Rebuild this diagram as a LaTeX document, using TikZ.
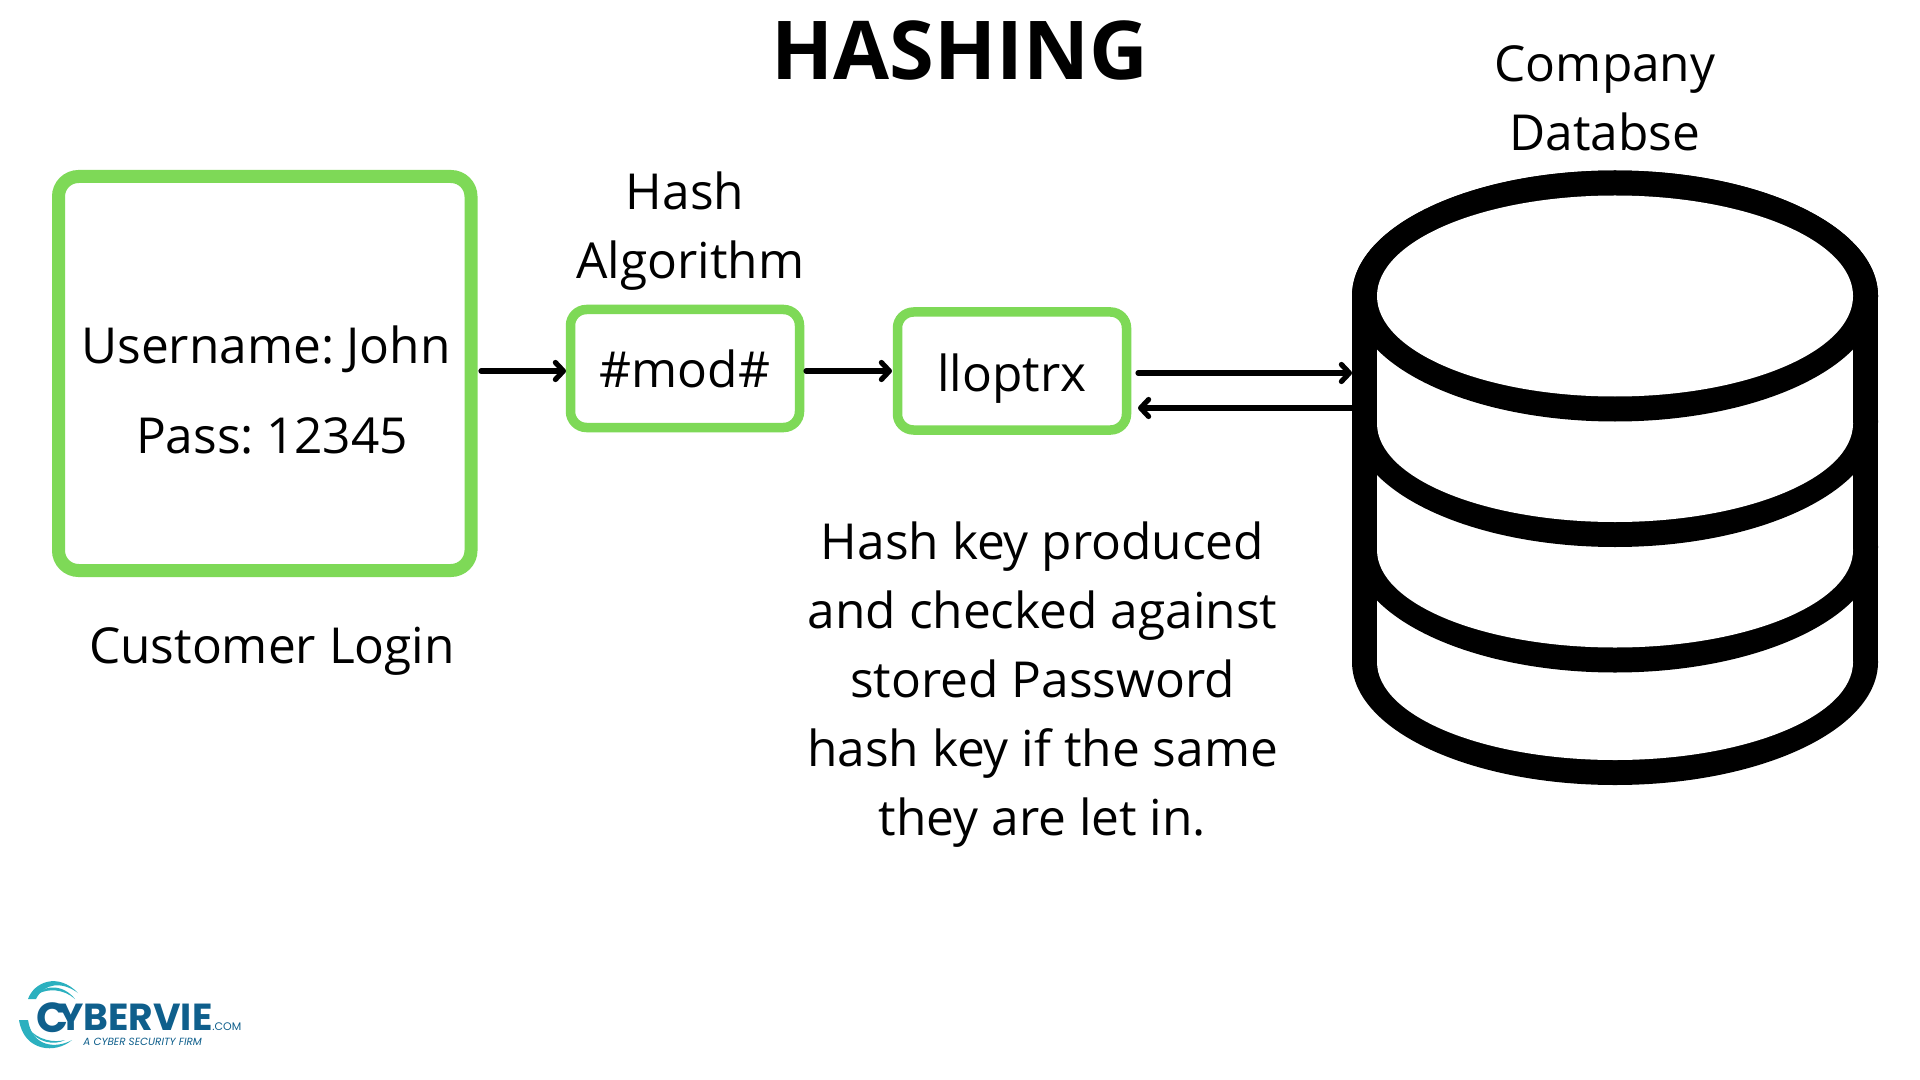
\documentclass[tikz,border=0pt]{standalone}
\usepackage{fontspec}
\usepackage{graphicx}
\setmainfont{Open Sans}
\newfontfamily\logofont{Poppins}
\usetikzlibrary{arrows.meta}
\definecolor{gbox}{HTML}{7ED957}
\definecolor{logoblue}{HTML}{0F5F8C}
\definecolor{logoteal}{HTML}{2BB0BF}
\tikzset{
  greenbox/.style={draw=gbox,line width=4.75pt,rounded corners=8pt,fill=white,inner sep=0pt,font=\fontsize{24.8pt}{34.5pt}\selectfont,text=black,text depth=0pt},
  lbl/.style={inner sep=0pt,anchor=base,align=center,font=\fontsize{24.8pt}{34.5pt}\selectfont,text=black},
  linkarrow/.style={line width=2.6pt,line cap=round,-{Straight Barb[round,length=4pt,width=8.5pt,line width=2.6pt]}},
  dbk/.style={fill=black},
  dbw/.style={fill=white},
}
\newcommand{\dbdisc}[4]{\fill[#1] (1615,#2) ellipse [x radius=#3,y radius=#4];}
\newcommand{\dbseg}[3]{%
  \fill[dbw] (1377,#1) rectangle (1853,#2);
  \dbdisc{dbw}{#2}{238}{#3}}
\begin{document}
\begin{tikzpicture}[x=0.5pt,y=-0.5pt]
\useasboundingbox (0,0) rectangle (1920,1080);
\fill[white] (0,0) rectangle (1920,1080);
% title
\node[inner sep=0pt,anchor=base,font=\fontsize{40.6pt}{45pt}\selectfont\bfseries] (title) at (960,80) {HASHING};
% customer box
\node[draw=gbox,line width=6.5pt,rounded corners=10pt,minimum width=206.25pt,minimum height=197pt,inner sep=0pt] (cust) at (264.75,373.5) {};
\node[lbl] (user) at (266,364) {Username:\kern-2.5pt{} John};
\node[lbl] (pass) at (272,453) {Pass:\kern-2.5pt{} 12345};
\node[lbl] (custlbl) at (272,663) {Customer Login};
% hash
\node[lbl] (hash) at (685,209.5) {Hash};
\node[lbl] (algo) at (690.5,278.5) {Algorithm};
\node[greenbox,text height=18.5pt,minimum width=114.5pt,minimum height=59pt] (mod) at (685,368.5) {\#mod\#};
\node[greenbox,text height=20pt,minimum width=114.5pt,minimum height=59pt] (key) at (1012,371) {lloptrx};
% paragraph
\node[lbl] (p1) at (1042.5,559) {Hash key produced};
\node[lbl] (p2) at (1042.5,628) {and checked against};
\node[lbl] (p3) at (1042.5,697) {stored Password};
\node[lbl] (p4) at (1042.5,766) {hash key if the same};
\node[lbl] (p5) at (1042.5,835) {they are let in.};
% database
\node[lbl] (co) at (1605,82) {Company};
\node[lbl] (dbname) at (1605,151) {Databse};
\dbdisc{dbk}{296}{263}{125.5}
\dbdisc{dbk}{662}{263}{123}
\fill[dbk] (1352,296) rectangle (1878,662);
\dbseg{547}{662}{98}
\dbdisc{dbk}{547}{263}{125.5}
\dbseg{423.5}{550}{97.5}
\dbdisc{dbk}{421.5}{263}{125.5}
\dbseg{296}{423.5}{98.5}
\dbdisc{dbk}{296}{263}{125.5}
\dbdisc{dbw}{296}{238}{100.5}
\coordinate (dbin) at (1352,373);
\coordinate (dbout) at (1352,408);
\coordinate (keyout) at (1138,373);
\coordinate (keyin) at (1138,408);
\coordinate (custout) at (481,371);
\coordinate (modin) at (566,371);
\coordinate (modout) at (806,371);
\coordinate (keyleft) at (892,371);
% connectors
\draw[linkarrow] (custout) -- (modin);
\draw[linkarrow] (modout) -- (keyleft);
\draw[linkarrow] (keyout) -- (dbin);
\draw[linkarrow] (dbout) -- (keyin);
% logo
\fill[logoteal] (28,999) .. controls (34,982) and (58,972) .. (78,993) .. controls (62,981) and (44,983) .. (36,999) -- cycle;
\fill[logoteal] (38,994) .. controls (46,984) and (64,985) .. (75,999) .. controls (64,989) and (48,988) .. (38,994) -- cycle;
\fill[logoteal] (19,1020) .. controls (24,1052) and (56,1054) .. (72,1040) .. controls (56,1049) and (32,1047) .. (28,1020) -- cycle;
\fill[logoteal] (29,1029) .. controls (36,1042) and (54,1046) .. (65,1040) .. controls (54,1043) and (38,1040) .. (29,1029) -- cycle;
\node[inner sep=0pt,anchor=base west,text=logoblue] (logoc) at (36,1032) {\resizebox{16pt}{!}{\logofont\bfseries C}};
\node[inner sep=0pt,anchor=base west,text=logoblue] (logoname) at (58,1030) {\resizebox{77pt}{!}{\logofont\bfseries YBERVIE}};
\node[inner sep=0pt,anchor=base west,text=logoblue] (logocom) at (212,1030) {\logofont\fontsize{5.5pt}{6pt}\selectfont .COM};
\node[inner sep=0pt,anchor=base west,text=logoblue] (logosub) at (83,1045.5) {\logofont\itshape\fontsize{5.2pt}{5.5pt}\selectfont A CYBER SECURITY FIRM};
\end{tikzpicture}
\end{document}
